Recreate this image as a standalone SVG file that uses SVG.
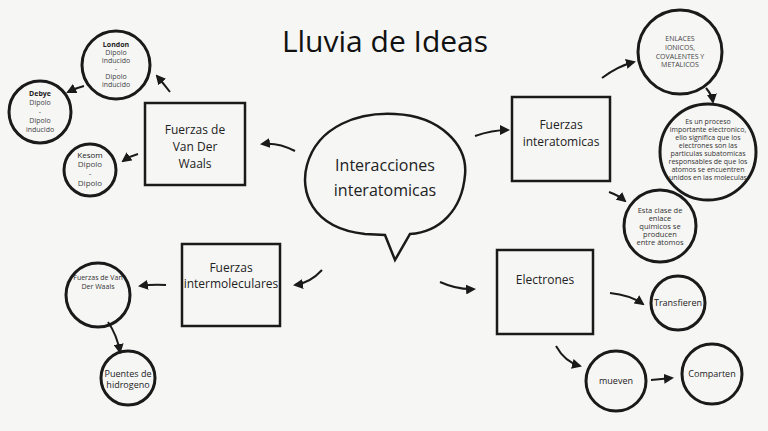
<svg xmlns="http://www.w3.org/2000/svg" width="768" height="431" viewBox="0 0 768 431">
<style>
.bx{fill:none;stroke:#1a1a1a;stroke-width:2.5}
.c{fill:none;stroke:#1a1a1a;stroke-width:3}
.t{font-family:"Open Sans","Liberation Sans",sans-serif;fill:#222;text-anchor:middle}
.b{font-size:12px}
.s{font-size:7px;fill:#444}
.a{fill:none;stroke:#1a1a1a;stroke-width:2;marker-end:url(#ah)}
</style>
<defs><marker id="ah" viewBox="0 0 10 10" refX="8" refY="5" markerWidth="5" markerHeight="5" orient="auto"><path d="M0,0L10,5L0,10z" fill="#1a1a1a"/></marker></defs>
<rect width="768" height="431" fill="#f6f6f5"/>
<text x="385" y="52" class="t" style="font-size:30px;fill:#111">Lluvia de Ideas</text>
<g id="central"><path d="M365,234 C310,228 300,190 307,165 C318,125 360,112 395,114 C440,116 468,145 465,175 C462,210 440,232 410,234 L395,260 L385,235 Z" class="bx"/>
<text x="385" y="171" class="t" style="font-size:16px">Interacciones</text><text x="385" y="196" class="t" style="font-size:16px">interatomicas</text></g>
<g id="vdw"><rect x="145" y="103" width="100" height="82" class="bx"/><text class="t b" x="195" y="134">Fuerzas de</text><text class="t b" x="195" y="151">Van Der</text><text class="t b" x="195" y="168">Waals</text></g>
<g id="inter"><rect x="512" y="97" width="98" height="84" class="bx"/><text class="t b" x="561" y="129">Fuerzas</text><text class="t b" x="561" y="146">interatomicas</text></g>
<g id="intermol"><rect x="182" y="244" width="98" height="82" class="bx"/><text class="t b" x="231" y="272">Fuerzas</text><text class="t b" x="231" y="288">intermoleculares</text></g>
<g id="elec"><rect x="497" y="250" width="96" height="84" class="bx"/><text class="t b" x="545" y="284">Electrones</text></g>
<g id="london"><circle cx="116" cy="65" r="34" class="c"/><text class="t s" x="116" y="47" style="fill:#222;font-weight:bold">London</text><text class="t s" x="116" y="55">Dipolo</text><text class="t s" x="116" y="63">Inducido</text><text class="t s" x="116" y="71">-</text><text class="t s" x="116" y="79">Dipolo</text><text class="t s" x="116" y="87">inducido</text></g>
<g id="debye"><circle cx="40" cy="112" r="31" class="c"/><text class="t s" x="40" y="96" style="fill:#222;font-weight:bold">Debye</text><text class="t s" x="40" y="105">Dipolo</text><text class="t s" x="40" y="114">-</text><text class="t s" x="40" y="123">Dipolo</text><text class="t s" x="40" y="132">inducido</text></g>
<g id="kesom"><circle cx="90" cy="170" r="26" class="c"/><text class="t" x="90" y="158" style="font-size:8px">Kesom</text><text class="t" x="90" y="167" style="font-size:8px;fill:#444">Dipolo</text><text class="t" x="90" y="176" style="font-size:8px;fill:#444">-</text><text class="t" x="90" y="186" style="font-size:8px;fill:#444">Dipolo</text></g>
<g id="enlaces"><circle cx="680" cy="52" r="42" class="c"/><text class="t s" x="680" y="41">ENLACES</text><text class="t s" x="680" y="50">IONICOS,</text><text class="t s" x="680" y="59">COVALENTES Y</text><text class="t s" x="680" y="67">METALICOS</text></g>
<g id="proceso"><circle cx="708" cy="152" r="48" class="c"/><g class="t" style="font-size:7px;fill:#333"><text x="708" y="124">Es un proceso</text><text x="708" y="132">importante electronico,</text><text x="708" y="140">ello significa  que los</text><text x="708" y="148">electrones son las</text><text x="708" y="156">particulas subatomicas</text><text x="708" y="164">responsables de que los</text><text x="708" y="172">atomos se encuentren</text><text x="708" y="180">unidos en las moleculas</text></g></g>
<g id="clase"><circle cx="660" cy="226" r="36" class="c"/><g class="t" style="font-size:7.5px;fill:#333"><text x="660" y="213">Esta clase de</text><text x="660" y="221">enlace</text><text x="660" y="229">químicos se</text><text x="660" y="237">producen</text><text x="660" y="245">entre átomos</text></g></g>
<g id="vdw2"><circle cx="98" cy="295" r="32" class="c"/><text class="t" x="98" y="280" style="font-size:7px;fill:#333">Fuerzas de Van</text><text class="t" x="98" y="289" style="font-size:7px;fill:#333">Der Waals</text></g>
<g id="puentes"><circle cx="128" cy="378" r="27" class="c"/><text class="t" x="128" y="377" style="font-size:9px">Puentes de</text><text class="t" x="128" y="388" style="font-size:9px">hidrogeno</text></g>
<g id="transf"><circle cx="678" cy="303" r="27" class="c"/><text class="t" x="678" y="306" style="font-size:9px">Transfieren</text></g>
<g id="mueven"><circle cx="616" cy="381" r="30" class="c"/><text class="t" x="616" y="384" style="font-size:9px">mueven</text></g>
<g id="comp"><circle cx="712" cy="374" r="30" class="c"/><text class="t" x="712" y="377" style="font-size:9px">Comparten</text></g>
<g id="connectors">
<path class="a" d="M295,151 Q278,142 262,144"/>
<path class="a" d="M170,92 Q163,83 157,76"/>
<path class="a" d="M84,86 Q76,88 68,92"/>
<path class="a" d="M138,154 Q130,156 123,161"/>
<path class="a" d="M475,136 Q492,130 508,130"/>
<path class="a" d="M602,78 Q618,66 634,62"/>
<path class="a" d="M706,88 Q712,95 713,102"/>
<path class="a" d="M609,192 Q618,195 625,201"/>
<path class="a" d="M322,270 Q310,283 295,285"/>
<path class="a" d="M166,285 Q153,284 140,286"/>
<path class="a" d="M108,322 Q117,335 120,352"/>
<path class="a" d="M440,282 Q458,290 474,289"/>
<path class="a" d="M610,293 Q630,295 643,304"/>
<path class="a" d="M556,346 Q565,362 580,366"/>
<path class="a" d="M651,380 Q662,379 672,378"/>
</g>
</svg>
